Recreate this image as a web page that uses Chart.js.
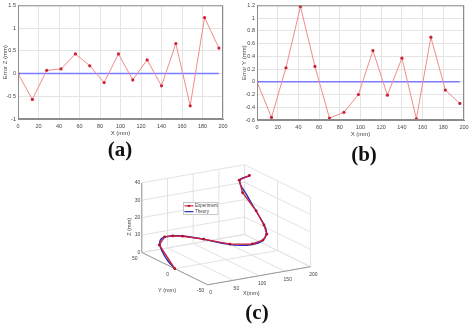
<!DOCTYPE html>
<html>
<head>
<meta charset="utf-8">
<script src="https://cdn.jsdelivr.net/npm/chart.js@4.4.0/dist/chart.umd.min.js"></script>
<style>
  body { margin: 0; background: #fff; width: 474px; height: 324px; position: relative; overflow: hidden; }
  .panel { position: absolute; }
  .tag { position: absolute; font: bold 21px "Liberation Serif", "Times New Roman", serif; color: #111; transform: translate(-50%, -50%); white-space: nowrap; }
</style>
</head>
<body>
<div class="panel" style="left:0;top:0"><canvas id="errZ" width="232" height="140"></canvas></div>
<div class="panel" style="left:237px;top:0"><canvas id="errY" width="237" height="141"></canvas></div>
<div class="panel" style="left:100px;top:160px"><canvas id="path3d" width="260" height="164"></canvas></div>
<div class="tag" style="left:120px;top:149px">(a)</div>
<div class="tag" style="left:364px;top:154px">(b)</div>
<div class="tag" style="left:257px;top:312px">(c)</div>
<script>
// stations along X where the error was measured (mm)
const stations = [0, 14, 28, 42, 56, 70, 84, 98, 112, 126, 140, 154, 168, 182, 196];
const errorZ = [0, -0.57, 0.07, 0.1, 0.43, 0.17, -0.2, 0.43, -0.14, 0.3, -0.27, 0.66, -0.71, 1.23, 0.56];
const errorY = [0, -0.56, 0.22, 1.18, 0.24, -0.57, -0.48, -0.2, 0.49, -0.21, 0.37, -0.58, 0.7, -0.13, -0.34];

// 3D path: theory curve and measured points (mm)
const theoryX = [0, 5, 10, 16, 24, 40, 60, 84, 105, 125, 145, 158, 164, 170, 176, 180, 196];
const theoryY = [0, 14.2, 26.9, 35.3, 37.8, 35.6, 30.6, 21.4, 9.8, -4, -13.5, -14.4, -10.4, 7.5, 28.4, 41.8, 39.5];
const theoryZ = [0, 1.5, 4.3, 7.3, 9.2, 10.1, 9.8, 8.5, 7.3, 7.6, 9.7, 12.5, 16.3, 21.9, 28.2, 33.5, 35.8];
const expX = [0, 14, 28, 42, 56, 84, 112, 140, 154, 162, 166, 171, 176, 180, 196];
const expY = [0, 34.4, 37.3, 35.7, 31.9, 21.4, 3.5, -8.5, -13.8, -13.4, -5.9, 9.75, 34.2, 42.5, 39.5];
const expZ = [0, 6.5, 9.9, 10, 9.8, 8.6, 7.6, 8.5, 11.0, 13.9, 17.6, 22.5, 28.1, 33.6, 36.0];

// 3D axis ticks
const ticks3X = [0, 50, 100, 150, 200];
const ticks3Y = [-50, 0, 50];
const ticks3Z = [0, 10, 20, 30, 40];

Chart.defaults.font.family = '"Liberation Sans", Arial, sans-serif';
Chart.defaults.color = '#444';

const frame = {
  id: 'frame',
  afterDraw(chart) {
    const { ctx, chartArea: a } = chart;
    ctx.save();
    ctx.strokeStyle = '#8c8c8c';
    ctx.lineWidth = 1;
    ctx.strokeRect(a.left + 0.5, a.top + 0.5, a.width - 1, a.height - 1);
    ctx.restore();
  }
};

const fmt = v => String(Number(v.toFixed(2)));

function errorChart(id, values, yMin, yMax, step, yTitle, yWidth, padTop, padRight) {
  return new Chart(document.getElementById(id), {
    type: 'scatter',
    data: {
      datasets: [
        {
          data: stations.map((x, i) => ({ x, y: values[i] })),
          showLine: true, borderColor: '#f28a8a', borderWidth: 1,
          pointRadius: 1.6, pointBackgroundColor: '#cc2233', pointBorderWidth: 0, order: 0
        },
        {
          data: stations.map(x => ({ x, y: 0 })),
          showLine: true, borderColor: '#7b7bff', borderWidth: 1.6, pointRadius: 0, order: 1
        }
      ]
    },
    options: {
      responsive: false, animation: false, devicePixelRatio: 1,
      layout: { padding: { top: padTop, right: padRight, left: 0, bottom: 0 } },
      plugins: { legend: { display: false }, tooltip: { enabled: false } },
      scales: {
        x: {
          type: 'linear', min: 0, max: 200,
          ticks: { stepSize: 20, font: { size: 5.5 }, padding: 4, maxRotation: 0, autoSkip: false },
          grid: { color: '#e4e4e4', drawTicks: false },
          border: { color: '#8c8c8c' },
          title: { display: true, text: 'X (mm)', font: { size: 6 }, padding: { top: 0, bottom: 3 } },
          afterFit: s => { s.height = 21; }
        },
        y: {
          min: yMin, max: yMax,
          ticks: { stepSize: step, font: { size: 5.5 }, padding: 2, callback: fmt },
          grid: { color: '#e4e4e4', drawTicks: false },
          border: { color: '#8c8c8c' },
          title: { display: true, text: yTitle, font: { size: 6 }, padding: { top: yWidth - 16, bottom: 0 } },
          afterFit: s => { s.width = yWidth; }
        }
      }
    },
    plugins: [frame]
  });
}

errorChart('errZ', errorZ, -1, 1.5, 0.5, 'Error Z (mm)', 18, 4, 9);
errorChart('errY', errorY, -0.6, 1.2, 0.2, 'Error Y (mm)', 20, 3, 10);

// orthographic view of the box: page position of (x, y, z)
const view = { ox: 207, oy: 287, ex: [0.53, -0.095], ey: [-0.68, -0.34], ez: -1.83, yMin: -50 };
function proj(x, y, z) {
  const yy = y - view.yMin;
  return { x: view.ox + view.ex[0] * x + view.ey[0] * yy, y: view.oy + view.ex[1] * x + view.ey[1] * yy + view.ez * z };
}

const gridSets = [];
function seg(a, b, color, order) {
  gridSets.push({ data: [proj(...a), proj(...b)], showLine: true, borderColor: color, borderWidth: 1, pointRadius: 0, order: order });
}
const gx0 = ticks3X[0], gx1 = ticks3X[ticks3X.length - 1];
const gy0 = ticks3Y[0], gy1 = ticks3Y[ticks3Y.length - 1];
const gz0 = ticks3Z[0], gz1 = ticks3Z[ticks3Z.length - 1];
const gc = '#e2e2e2';
// back wall (y max)
ticks3X.forEach(x => seg([x, gy1, gz0], [x, gy1, gz1], gc, 9));
ticks3Z.forEach(z => seg([gx0, gy1, z], [gx1, gy1, z], gc, 9));
// side wall (x max)
ticks3Y.forEach(y => seg([gx1, y, gz0], [gx1, y, gz1], gc, 9));
ticks3Z.forEach(z => seg([gx1, gy0, z], [gx1, gy1, z], gc, 9));
// floor
ticks3X.forEach(x => seg([x, gy0, gz0], [x, gy1, gz0], gc, 9));
ticks3Y.forEach(y => seg([gx0, y, gz0], [gx1, y, gz0], gc, 9));
// axis lines
seg([gx0, gy0, gz0], [gx1, gy0, gz0], '#9a9a9a', 8);
seg([gx0, gy0, gz0], [gx0, gy1, gz0], '#9a9a9a', 8);
seg([gx0, gy1, gz0], [gx0, gy1, gz1], '#9a9a9a', 8);

const labels3d = {
  id: 'labels3d',
  afterDatasetsDraw(chart) {
    const { ctx, scales: { x: sx, y: sy } } = chart;
    const px = p => [sx.getPixelForValue(p.x), sy.getPixelForValue(p.y)];
    ctx.save();
    ctx.fillStyle = '#444';
    ctx.font = '5px "Liberation Sans", Arial, sans-serif';
    ctx.textBaseline = 'middle';
    ctx.textAlign = 'center';
    ticks3X.forEach(v => { const [a, b] = px(proj(v, gy0, gz0)); ctx.fillText(String(v), a + 3, b + 8); });
    ticks3Y.forEach(v => { const [a, b] = px(proj(gx0, v, gz0)); ctx.fillText(String(v), a - 7, b + 6); });
    ctx.textAlign = 'right';
    ticks3Z.forEach(v => { const [a, b] = px(proj(gx0, gy1, v)); ctx.fillText(String(v), a - 1.5, b); });

    ctx.font = '5.5px "Liberation Sans", Arial, sans-serif';
    ctx.textAlign = 'center';
    let [a, b] = px({ x: 252, y: 296 });
    ctx.fillText('X(mm)', a, b);
    [a, b] = px({ x: 165, y: 293 });
    ctx.fillText('Y (mm)', a, b);
    [a, b] = px({ x: 126.5, y: 226 });
    ctx.translate(a, b);
    ctx.rotate(-Math.PI / 2);
    ctx.fillText('Z (mm)', 0, 0);
    ctx.restore();

    // legend
    ctx.save();
    const [lx, ly] = px({ x: 181.5, y: 200 });
    ctx.fillStyle = '#fff';
    ctx.fillRect(lx, ly, 35.5, 13);
    ctx.strokeStyle = '#bbb';
    ctx.lineWidth = 0.8;
    ctx.strokeRect(lx + 0.5, ly + 0.5, 34.5, 12);
    ctx.lineWidth = 1.2;
    ctx.strokeStyle = '#cc1f3a';
    ctx.beginPath(); ctx.moveTo(lx + 1.5, ly + 3.8); ctx.lineTo(lx + 10.5, ly + 3.8); ctx.stroke();
    ctx.fillStyle = '#b0102a';
    ctx.beginPath(); ctx.arc(lx + 6, ly + 3.8, 1.2, 0, Math.PI * 2); ctx.fill();
    ctx.strokeStyle = '#2a2ab8';
    ctx.beginPath(); ctx.moveTo(lx + 1.5, ly + 9.6); ctx.lineTo(lx + 10.5, ly + 9.6); ctx.stroke();
    ctx.fillStyle = '#444';
    ctx.font = '4.5px "Liberation Sans", Arial, sans-serif';
    ctx.textAlign = 'left';
    ctx.textBaseline = 'middle';
    ctx.fillText('Experiment', lx + 12, ly + 3.8);
    ctx.fillText('Theory', lx + 12, ly + 9.6);
    ctx.restore();
  }
};

new Chart(document.getElementById('path3d'), {
  type: 'scatter',
  data: {
    datasets: [
      {
        label: 'Experiment',
        data: expX.map((x, i) => proj(x, expY[i], expZ[i])),
        showLine: true, borderColor: '#cc1f3a', borderWidth: 1.4,
        pointRadius: 1.4, pointBackgroundColor: '#b0102a', pointBorderWidth: 0, order: 0
      },
      {
        label: 'Theory',
        data: theoryX.map((x, i) => proj(x, theoryY[i], theoryZ[i])),
        showLine: true, borderColor: '#2a2ab8', borderWidth: 1.4, tension: 0.4, pointRadius: 0, order: 1
      },
      ...gridSets
    ]
  },
  options: {
    responsive: false, animation: false, devicePixelRatio: 1,
    layout: { padding: 0 },
    plugins: { legend: { display: false }, tooltip: { enabled: false } },
    scales: {
      x: { type: 'linear', display: false, min: 100, max: 360 },
      y: { type: 'linear', display: false, min: 160, max: 324, reverse: true }
    }
  },
  plugins: [labels3d]
});
</script>
</body>
</html>
